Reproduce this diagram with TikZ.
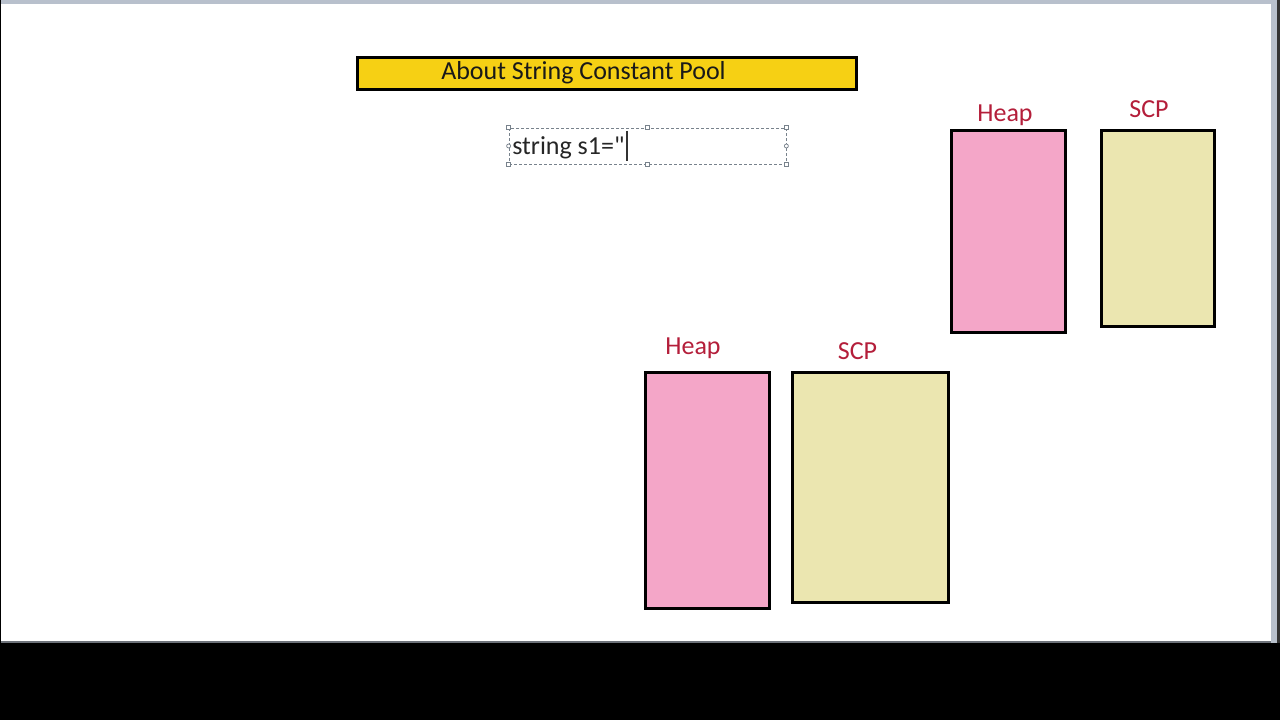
\documentclass[tikz,border=0pt]{standalone}
\usepackage{fontspec}
\setmainfont{Carlito}
\newfontfamily\plainfont{Carlito}
\usepackage{xcolor}
\usetikzlibrary{positioning}

\definecolor{titleyellow}{RGB}{246,208,20}
\definecolor{heappink}{RGB}{244,166,200}
\definecolor{scpbeige}{RGB}{235,230,176}
\definecolor{lblred}{RGB}{180,30,58}
\definecolor{framegray}{RGB}{184,192,204}
\definecolor{handlegray}{RGB}{120,130,140}

\begin{document}
\begin{tikzpicture}[x=0.2mm,y=-0.2mm,
  every node/.style={font=\fontsize{14.8pt}{17pt}\selectfont},
  area/.style={draw=black,line width=0.65mm,inner sep=0pt},
  heapbox/.style={area,fill=heappink},
  scpbox/.style={area,fill=scpbeige},
  lbl/.style={text=lblred,anchor=base,inner sep=0pt},
  handle/.style={draw=handlegray,fill=white,line width=0.15mm,inner sep=0pt,minimum size=0.8mm}]

  % window frame
  \useasboundingbox (0,0) rectangle (1280,720);
  \fill[white] (0,0) rectangle (1280,720);
  \fill[black] (0,643) rectangle (1280,720);
  \fill[framegray!60!black] (0,641) rectangle (1280,643);
  \fill[framegray] (0,0) rectangle (1280,4);
  \fill[black] (0,0) rectangle (1.5,643);
  \fill[framegray] (1271,4) rectangle (1277,643);
  \fill[black!80] (1277,0) rectangle (1280,643);

  % title
  \node[area,fill=titleyellow,minimum width=99.8mm,minimum height=6.4mm] (title) at (607,73.5) {};
  \node[anchor=base,inner sep=0pt,text=black!90] (titletext) at (583.5,80) {About String Constant Pool};

  % text box being typed
  \node[draw=handlegray,dashed,dash pattern=on 0.6mm off 0.4mm,line width=0.15mm,
        minimum width=55.4mm,minimum height=7.2mm,inner sep=0pt] (typing) at (647.5,146) {};
  \node[anchor=base west,inner sep=0pt,text=black!85] (code) at (512,155) {\plainfont string s1="};
  \coordinate (cursortop) at (627,131);
  \coordinate (cursorbot) at (627,161);
  \draw[line width=0.25mm,black!80] (cursortop) -- (cursorbot);
  \foreach \a in {north west,north,north east,south west,south,south east}
    \node[handle] at (typing.\a) {};
  \foreach \a in {west,east}
    \node[handle,circle] at (typing.\a) {};

  % first picture of memory
  \node[heapbox,minimum width=22.8mm,minimum height=40.4mm] (heapA) at (1008.5,231.5) {};
  \node[scpbox,minimum width=22.6mm,minimum height=39.2mm] (scpA) at (1158,228.5) {};
  \node[lbl] (heapAlbl) at (1005,122) {Heap};
  \node[lbl] (scpAlbl) at (1149,118) {SCP};

  % second picture of memory
  \node[heapbox,minimum width=24.8mm,minimum height=47.2mm] (heapB) at (707.5,490.5) {};
  \node[scpbox,minimum width=31.2mm,minimum height=46mm] (scpB) at (870.5,487.5) {};
  \node[lbl] (heapBlbl) at (693,355) {Heap};
  \node[lbl] (scpBlbl) at (857.5,359) {SCP};
\end{tikzpicture}
\end{document}
